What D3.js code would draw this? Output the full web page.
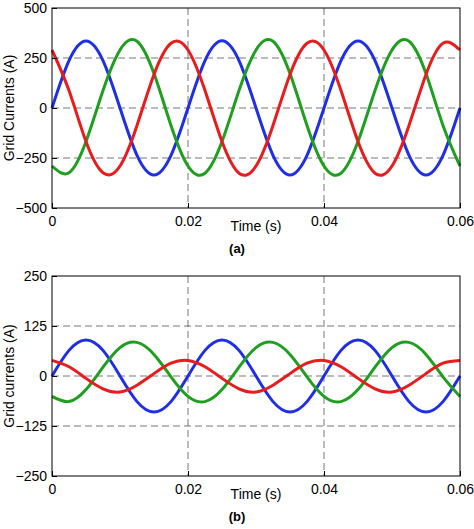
<!DOCTYPE html>
<html>
<head>
<meta charset="utf-8">
<script src="https://cdn.jsdelivr.net/npm/d3@7"></script>
<style>
  body { margin: 0; background: #fff; }
  text { font-family: "Liberation Sans", Arial, sans-serif; }
</style>
</head>
<body>
<div id="chart"></div>
<script>
// sample times, every 0.0025 s
var times = [0,0.0025,0.005,0.0075,0.01,0.0125,0.015,0.0175,0.02,0.0225,0.025,0.0275,0.03,0.0325,0.035,0.0375,0.04,0.0425,0.045,0.0475,0.05,0.0525,0.055,0.0575,0.06];

// panel (a) currents
var aBlue  = [0,237,335,237,0,-237,-335,-237,0,237,336,237,0,-237,-335,-237,0,237,335,237,0,-237,-335,-237,0];
var aGreen = [-290,-324,-168,87,290,334,172,-87,-290,-326,-168,87,290,334,172,-87,-290,-326,-168,87,290,334,172,-87,-290];
var aRed   = [290,87,-168,-324,-290,-87,168,324,290,87,-168,-326,-290,-87,168,324,290,87,-168,-326,-290,-87,168,324,290];

// panel (b)
var bBlue  = [0,64,90,64,0,-64,-90,-64,0,64,90,64,0,-64,-90,-64,0,64,90,64,0,-64,-90,-64,0];
var bGreen = [-51,-64,-34,22,71,84,54,-2,-51,-64,-34,22,71,84,54,-2,-51,-64,-34,22,71,84,54,-2,-51];
var bRed   = [39,23,-6,-32,-40,-23,6,32,39,23,-6,-32,-40,-23,6,32,39,23,-6,-32,-40,-23,6,32,39];

var xTicks = [0,0.02,0.04,0.06];
var aTicks = [-500,-250,0,250,500];
var bTicks = [-250,-125,0,125,250];

var colors = ["#1f2ee8", "#1f9e1f", "#e81c1c"];

var svg = d3.select("#chart").append("svg")
    .attr("width", 474).attr("height", 529);

function panel(top, yMax, yTicks, series, ylab, tag) {
  var left = 52, right = 460, h = 200;
  var x = d3.scaleLinear().domain([0, 0.06]).range([left, right]);
  var y = d3.scaleLinear().domain([-yMax, yMax]).range([top + h, top]);
  var g = svg.append("g");

  // dashed grid
  g.selectAll(".gx").data([0.02, 0.04]).enter().append("line")
    .attr("x1", d => x(d)).attr("x2", d => x(d))
    .attr("y1", top).attr("y2", top + h)
    .attr("stroke", "#555").attr("stroke-dasharray", "7,4").attr("stroke-width", 0.8);
  g.selectAll(".gy").data(yTicks.slice(1, -1)).enter().append("line")
    .attr("y1", d => y(d)).attr("y2", d => y(d))
    .attr("x1", left).attr("x2", right)
    .attr("stroke", "#555").attr("stroke-dasharray", "7,4").attr("stroke-width", 0.8);

  var line = d3.line().x((d, i) => x(times[i])).y(d => y(d)).curve(d3.curveNatural);
  series.forEach(function(s, k) {
    g.append("path").datum(s).attr("d", line)
      .attr("fill", "none").attr("stroke", colors[k]).attr("stroke-width", 3);
  });

  g.append("rect").attr("x", left).attr("y", top).attr("width", right - left).attr("height", h)
    .attr("fill", "none").attr("stroke", "#000").attr("stroke-width", 1);

  g.append("g").attr("transform", "translate(0," + (top + h) + ")")
    .call(d3.axisBottom(x).tickValues(xTicks).tickSizeInner(-5).tickSizeOuter(0).tickPadding(8)
      .tickFormat(d => d === 0 ? "0" : d3.format(".2f")(d)))
    .call(a => a.select(".domain").remove())
    .selectAll("text").attr("font-size", 14).attr("fill", "#000");
  g.append("g").attr("transform", "translate(" + left + ",0)")
    .call(d3.axisLeft(y).tickValues(yTicks).tickSizeInner(-5).tickSizeOuter(0).tickPadding(5))
    .call(a => a.select(".domain").remove())
    .selectAll("text").attr("font-size", 14).attr("fill", "#000");

  g.append("text").attr("x", (left + right) / 2).attr("y", top + h + 23)
    .attr("text-anchor", "middle").attr("font-size", 14).text("Time (s)");
  g.append("text").attr("transform", "translate(14," + (top + h / 2) + ") rotate(-90)")
    .attr("text-anchor", "middle").attr("font-size", 14).text(ylab);
  g.append("text").attr("x", 237).attr("y", top + h + 45)
    .attr("text-anchor", "middle").attr("font-size", 13).attr("font-weight", "bold").text(tag);
}

panel(8, 500, aTicks, [aBlue, aGreen, aRed], "Grid Currents (A)", "(a)");
panel(276, 250, bTicks, [bBlue, bGreen, bRed], "Grid currents (A)", "(b)");
</script>
</body>
</html>
